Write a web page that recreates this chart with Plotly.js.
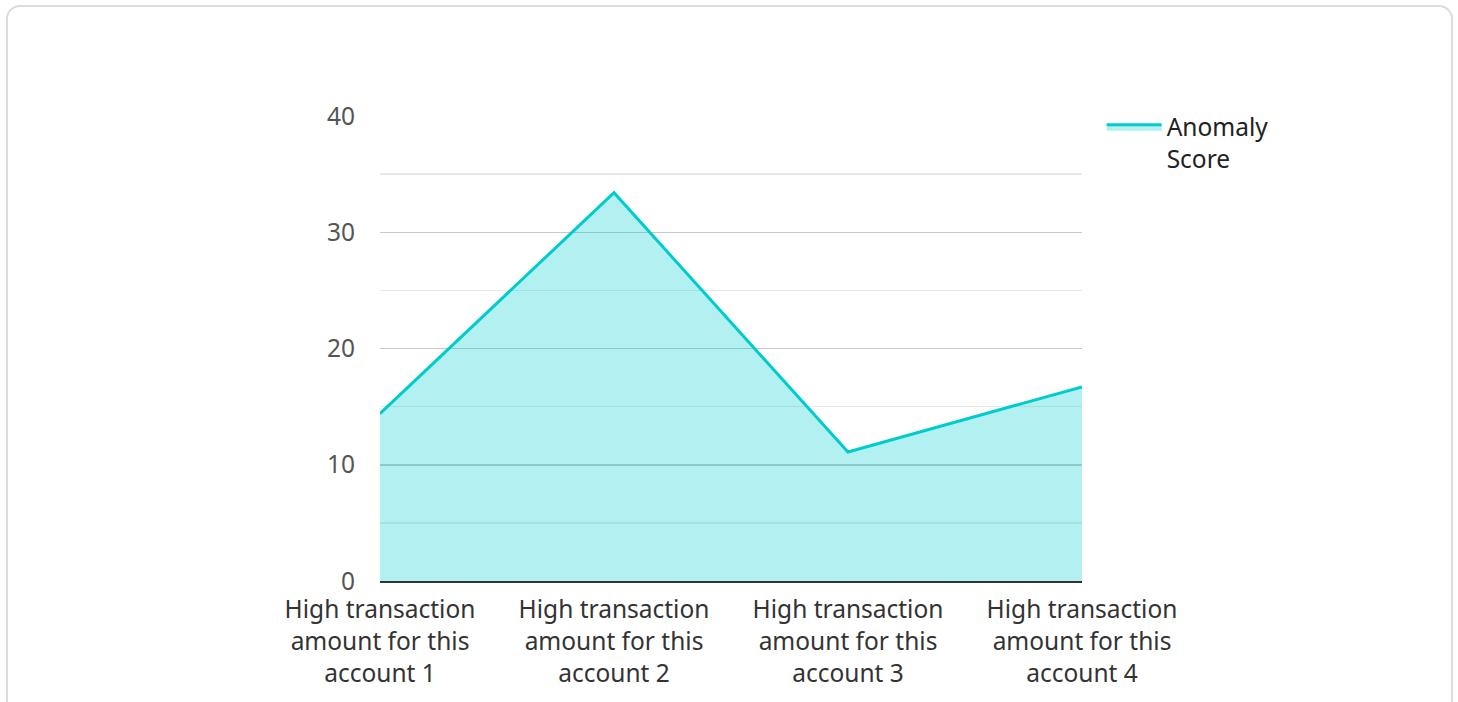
<!DOCTYPE html>
<html>
<head>
<meta charset="utf-8">
<script src="https://cdn.plot.ly/plotly-3.0.1.min.js"></script>
<style>
  html, body { margin: 0; padding: 0; background: #ffffff; }
  #card { position: absolute; left: 6px; top: 5px; width: 1447px; height: 712px; border: 2px solid #dcdcdc; border-radius: 14px; box-sizing: border-box; background: #fff; }
  #chart { position: absolute; left: 0; top: 0; width: 1458px; height: 702px; }
</style>
</head>
<body>
<div id="card"></div>
<div id="chart"></div>
<script>
const categories = [
  "High transaction amount for this account 1",
  "High transaction amount for this account 2",
  "High transaction amount for this account 3",
  "High transaction amount for this account 4"
];
const tickLabels = [
  "High transaction<br>amount for this<br>account 1",
  "High transaction<br>amount for this<br>account 2",
  "High transaction<br>amount for this<br>account 3",
  "High transaction<br>amount for this<br>account 4"
];
const anomalyScore = [14.4, 33.4, 11.1, 16.7];
const seriesName = "Anomaly<br>Score";

const trace = {
  x: categories,
  y: anomalyScore,
  type: "scatter",
  mode: "lines",
  name: seriesName,
  fill: "tozeroy",
  fillcolor: "rgba(0,206,209,0.3)",
  line: { color: "#00cccc", width: 3 },
  showlegend: true
};

const layout = {
  width: 1458,
  height: 702,
  paper_bgcolor: "rgba(0,0,0,0)",
  plot_bgcolor: "rgba(0,0,0,0)",
  margin: { l: 380, r: 376, t: 116, b: 121 },
  font: { family: "Noto Sans, Open Sans, sans-serif", size: 24.5, color: "#333" },
  showlegend: true,
  legend: {
    x: 1.028, xanchor: "left", y: 1.025, yanchor: "top",
    font: { size: 24.5, color: "#222" },
    bgcolor: "rgba(0,0,0,0)",
    itemwidth: 55,
    valign: "top"
  },
  xaxis: {
    type: "category",
    range: [0, 3],
    tickvals: categories,
    ticktext: tickLabels,
    showgrid: false,
    zeroline: false,
    showline: true,
    linecolor: "#333",
    linewidth: 2,
    ticks: "",
    ticklabelstandoff: 6,
    tickfont: { size: 24.5, color: "#333" },
    fixedrange: true
  },
  yaxis: {
    range: [0, 40],
    dtick: 10,
    showgrid: true,
    gridcolor: "#c8c8c8",
    gridwidth: 1.5,
    zeroline: false,
    showline: false,
    ticks: "",
    ticklabelstandoff: 24,
    tickfont: { size: 24.5, color: "#555" },
    minor: { dtick: 5, showgrid: true, gridcolor: "#e8e8e8", gridwidth: 1.5 },
    fixedrange: true
  }
};

Plotly.newPlot("chart", [trace], layout, { displayModeBar: false, staticPlot: true });
</script>
</body>
</html>
